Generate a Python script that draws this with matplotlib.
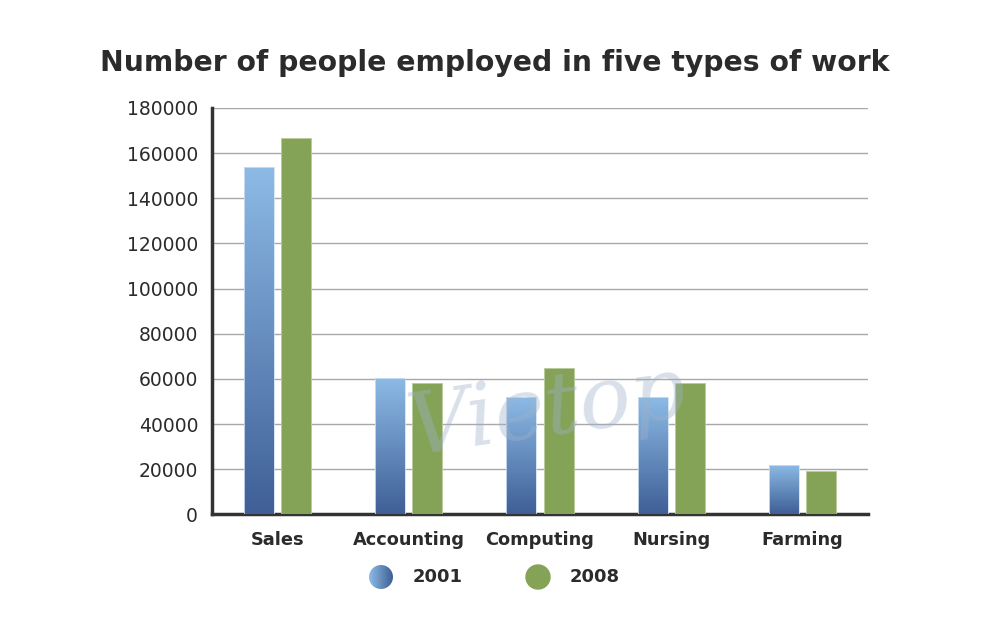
import numpy as np
import matplotlib
matplotlib.use('Agg')
import matplotlib.pyplot as plt
from matplotlib.patches import Circle, Ellipse
from matplotlib.colors import LinearSegmentedColormap

# datos
categorias = ['Sales', 'Accounting', 'Computing', 'Nursing', 'Farming']
valores_2001 = [154000, 60500, 52000, 52000, 22000]
valores_2008 = [166500, 58000, 65000, 58000, 19000]
series = ['2001', '2008']
yticks = [0, 20000, 40000, 60000, 80000, 100000, 120000, 140000, 160000, 180000]

plt.rcParams['font.family'] = ['DejaVu Sans']

azul = LinearSegmentedColormap.from_list('azul', ['#3f5f96', '#8dbbe6'])
verde = '#84a356'
texto = '#2b2b2b'

fig = plt.figure(figsize=(10, 6.22), dpi=100)
ax = fig.add_axes([0.212, 0.173, 0.656, 0.6535])

x = np.arange(len(categorias))
ancho = 0.228
desp = 0.142

barras_a = ax.bar(x - desp, valores_2001, ancho, color='none', edgecolor='#cfe0f2', linewidth=0.6, zorder=3)
ax.bar(x + desp, valores_2008, ancho, color=verde, edgecolor='#b9cc9c', linewidth=0.6, zorder=3)

# degradado vertical en las barras de 2001
grad = np.linspace(0, 1, 256).reshape(-1, 1)
for b in barras_a:
    x0 = b.get_x()
    h = b.get_height()
    im = ax.imshow(grad, cmap=azul, extent=[x0, x0 + b.get_width(), 0, h],
                   origin='lower', aspect='auto', zorder=2.9)
    im.set_clip_path(b)

ax.set_xlim(-0.5, len(categorias) - 0.5)
ax.set_ylim(0, 180000)
ax.set_yticks(yticks)
ax.set_yticklabels([str(v) for v in yticks])
ax.set_xticks(x)
ax.set_xticklabels(categorias, fontweight='bold')
ax.tick_params(axis='y', length=0, pad=10, labelsize=13.5, labelcolor=texto)
ax.tick_params(axis='x', length=0, pad=12, labelsize=12.8, labelcolor=texto)

ax.grid(axis='y', color='#a8a8a8', linewidth=1.0, zorder=0)
ax.set_axisbelow(True)
for s in ['top', 'right']:
    ax.spines[s].set_visible(False)
ax.spines['left'].set_color('#333333')
ax.spines['left'].set_linewidth(2.5)
ax.spines['bottom'].set_color('#333333')
ax.spines['bottom'].set_linewidth(2.5)

# marca de agua
ax.text(2.05, 46000, 'Vietop', fontsize=62, style='italic', color='#9fb2cc',
        alpha=0.4, ha='center', va='center', rotation=8, zorder=4, family='DejaVu Serif')

fig.text(0.495, 0.898, 'Number of people employed in five types of work',
         ha='center', va='center', fontsize=20.3, fontweight='bold', color=texto)

# leyenda hecha a mano
r = 12
ley_y = 1 - 577 / 622
cx1, cx2 = 381 / 1000, 538 / 1000
eax = fig.add_axes([cx1 - r / 1000, ley_y - r / 622, 2 * r / 1000, 2 * r / 622])
eax.set_axis_off()
im = eax.imshow(np.linspace(1, 0, 64).reshape(1, -1), cmap=azul, extent=[0, 1, 0, 1], aspect='auto')
c = Circle((0.5, 0.5), 0.5, transform=eax.transData)
im.set_clip_path(c)
eax.set_xlim(0, 1)
eax.set_ylim(0, 1)
fig.add_artist(Ellipse((cx2, ley_y), 2 * r / 1000, 2 * r / 622, color=verde, transform=fig.transFigure))
fig.text(438 / 1000, ley_y, series[0], ha='center', va='center', fontsize=13, fontweight='bold', color=texto)
fig.text(595 / 1000, ley_y, series[1], ha='center', va='center', fontsize=13, fontweight='bold', color=texto)

fig.savefig('out.png', dpi=100)
